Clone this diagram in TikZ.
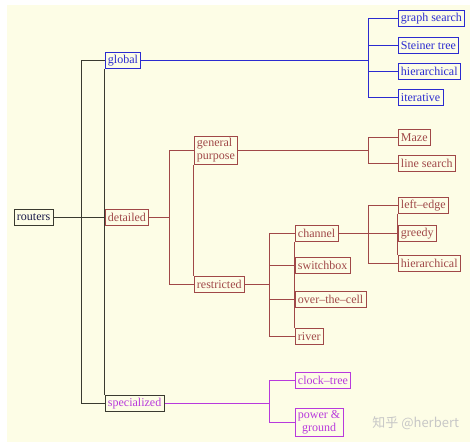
\documentclass[tikz,border=0pt]{standalone}
\usepackage{fontspec}
\setmainfont{Liberation Serif}
\newfontfamily\cjkfont{Noto Sans CJK SC}
\usetikzlibrary{positioning,calc}
\definecolor{cPaper}{HTML}{FDFDE6}
\definecolor{cRoot}{HTML}{1A1A4A}
\definecolor{cGlobal}{HTML}{2B2BD0}
\definecolor{cDetail}{HTML}{A04848}
\definecolor{cSpecial}{HTML}{B83ADC}
\definecolor{cTrunk}{HTML}{3A3A30}

\begin{document}
\begin{tikzpicture}[
    x=1pt, y=1pt,
    font=\fontsize{12}{13}\selectfont,
    box/.style={draw, line width=0.9pt, anchor=west, inner xsep=3pt, inner ysep=2pt, minimum height=16pt, fill=cPaper},
    root/.style={box, draw=cTrunk, text=cRoot},
    glb/.style={box, draw=cGlobal, text=cGlobal},
    det/.style={box, draw=cDetail, text=cDetail},
    spc/.style={box, draw=cSpecial, text=cSpecial},
    trunk/.style={draw=cTrunk, line width=0.9pt},
    blink/.style={draw=cGlobal, line width=0.9pt},
    dlink/.style={draw=cDetail, line width=0.9pt},
    slink/.style={draw=cSpecial, line width=0.9pt}
]

\useasboundingbox (0,0) rectangle (474,446);
\fill[cPaper] (7,4) rectangle (470,441);

% shifted by half a pixel so the thin lines stay crisp
\begin{scope}[shift={(0.5,0.5)}]

% level 1
\node[root] (routers) at (13,228) {routers};
\node[glb] (global) at (104,385) {global};
\node[det] (detailed) at (104,228) {detailed};
\node[spc, draw=cTrunk] (special) at (104,42) {specialized};

% global routers
\node[glb] (graph) at (397,427) {graph search};
\node[glb] (steiner) at (397,400) {Steiner tree};
\node[glb] (ghier) at (397,374) {hierarchical};
\node[glb] (iter) at (397,348) {iterative};

% detailed routers
\node[det, align=left] (general) at (193,295) {general\\purpose};
\node[det] (restrict) at (193,161) {restricted};
\node[det] (maze) at (397,308) {Maze};
\node[det] (line) at (397,282) {line search};
\node[det] (channel) at (294,212) {channel};
\node[det] (switch) at (294,180) {switchbox};
\node[det] (otc) at (294,146) {over--the--cell};
\node[det] (river) at (294,109) {river};
\node[det] (left) at (397,240) {left--edge};
\node[det] (greedy) at (397,212) {greedy};
\node[det] (chier) at (397,182) {hierarchical};

% specialized routers
\node[spc] (clock) at (294,65) {clock--tree};
\node[spc, align=center] (power) at (294,23) {power \&\\ground};

\coordinate (jRoot) at (81,228);
\coordinate (jGlobal) at (368,385);
\coordinate (jDetail) at (169,228);
\coordinate (jGeneral) at (368,295);
\coordinate (jRestrict) at (269,161);
\coordinate (jChannel) at (368,212);
\coordinate (jSpecial) at (269,42);

\draw[trunk] (routers) -- (jRoot);
\draw[trunk] (global.west) -| (jRoot) |- (special.west);
\draw[trunk] (jRoot) -- (detailed);
\draw[trunk] (global.south west) -- (special.north west);

\draw[blink] (global.east) -- (jGlobal);
\draw[blink] (graph.west) -| (jGlobal) |- (iter.west);
\draw[blink] (jGlobal |- steiner.west) -- (steiner.west);
\draw[blink] (jGlobal) |- (ghier.west);

\draw[dlink] (detailed) -- (jDetail);
\draw[dlink] (general.west) -| (jDetail) |- (restrict.west);
\draw[dlink] (general.south west) -- (restrict.north west);
\draw[dlink] (general) -- (jGeneral);
\draw[dlink] (maze.west) -| (jGeneral) |- (line.west);
\draw[dlink] (restrict) -- (jRestrict);
\draw[dlink] (channel.west) -| (jRestrict) |- (river.west);
\draw[dlink] (jRestrict |- switch.west) -- (switch.west);
\draw[dlink] (jRestrict |- otc.west) -- (otc.west);
\draw[dlink] (channel.south west) -- (river.north west);
\draw[dlink] (channel) -- (jChannel);
\draw[dlink] (left.west) -| (jChannel) |- (chier.west);
\draw[dlink] (jChannel) -- (greedy);
\draw[dlink] (left.south west) -- (chier.north west);

\draw[slink] (special) -- (jSpecial);
\draw[slink] (clock.west) -| (jSpecial) |- (power.west);

\node[text=black!22, font=\cjkfont\fontsize{13}{14}\selectfont, anchor=east] (mark) at (462,22) {知乎 @herbert};

\end{scope}

\end{tikzpicture}
\end{document}
